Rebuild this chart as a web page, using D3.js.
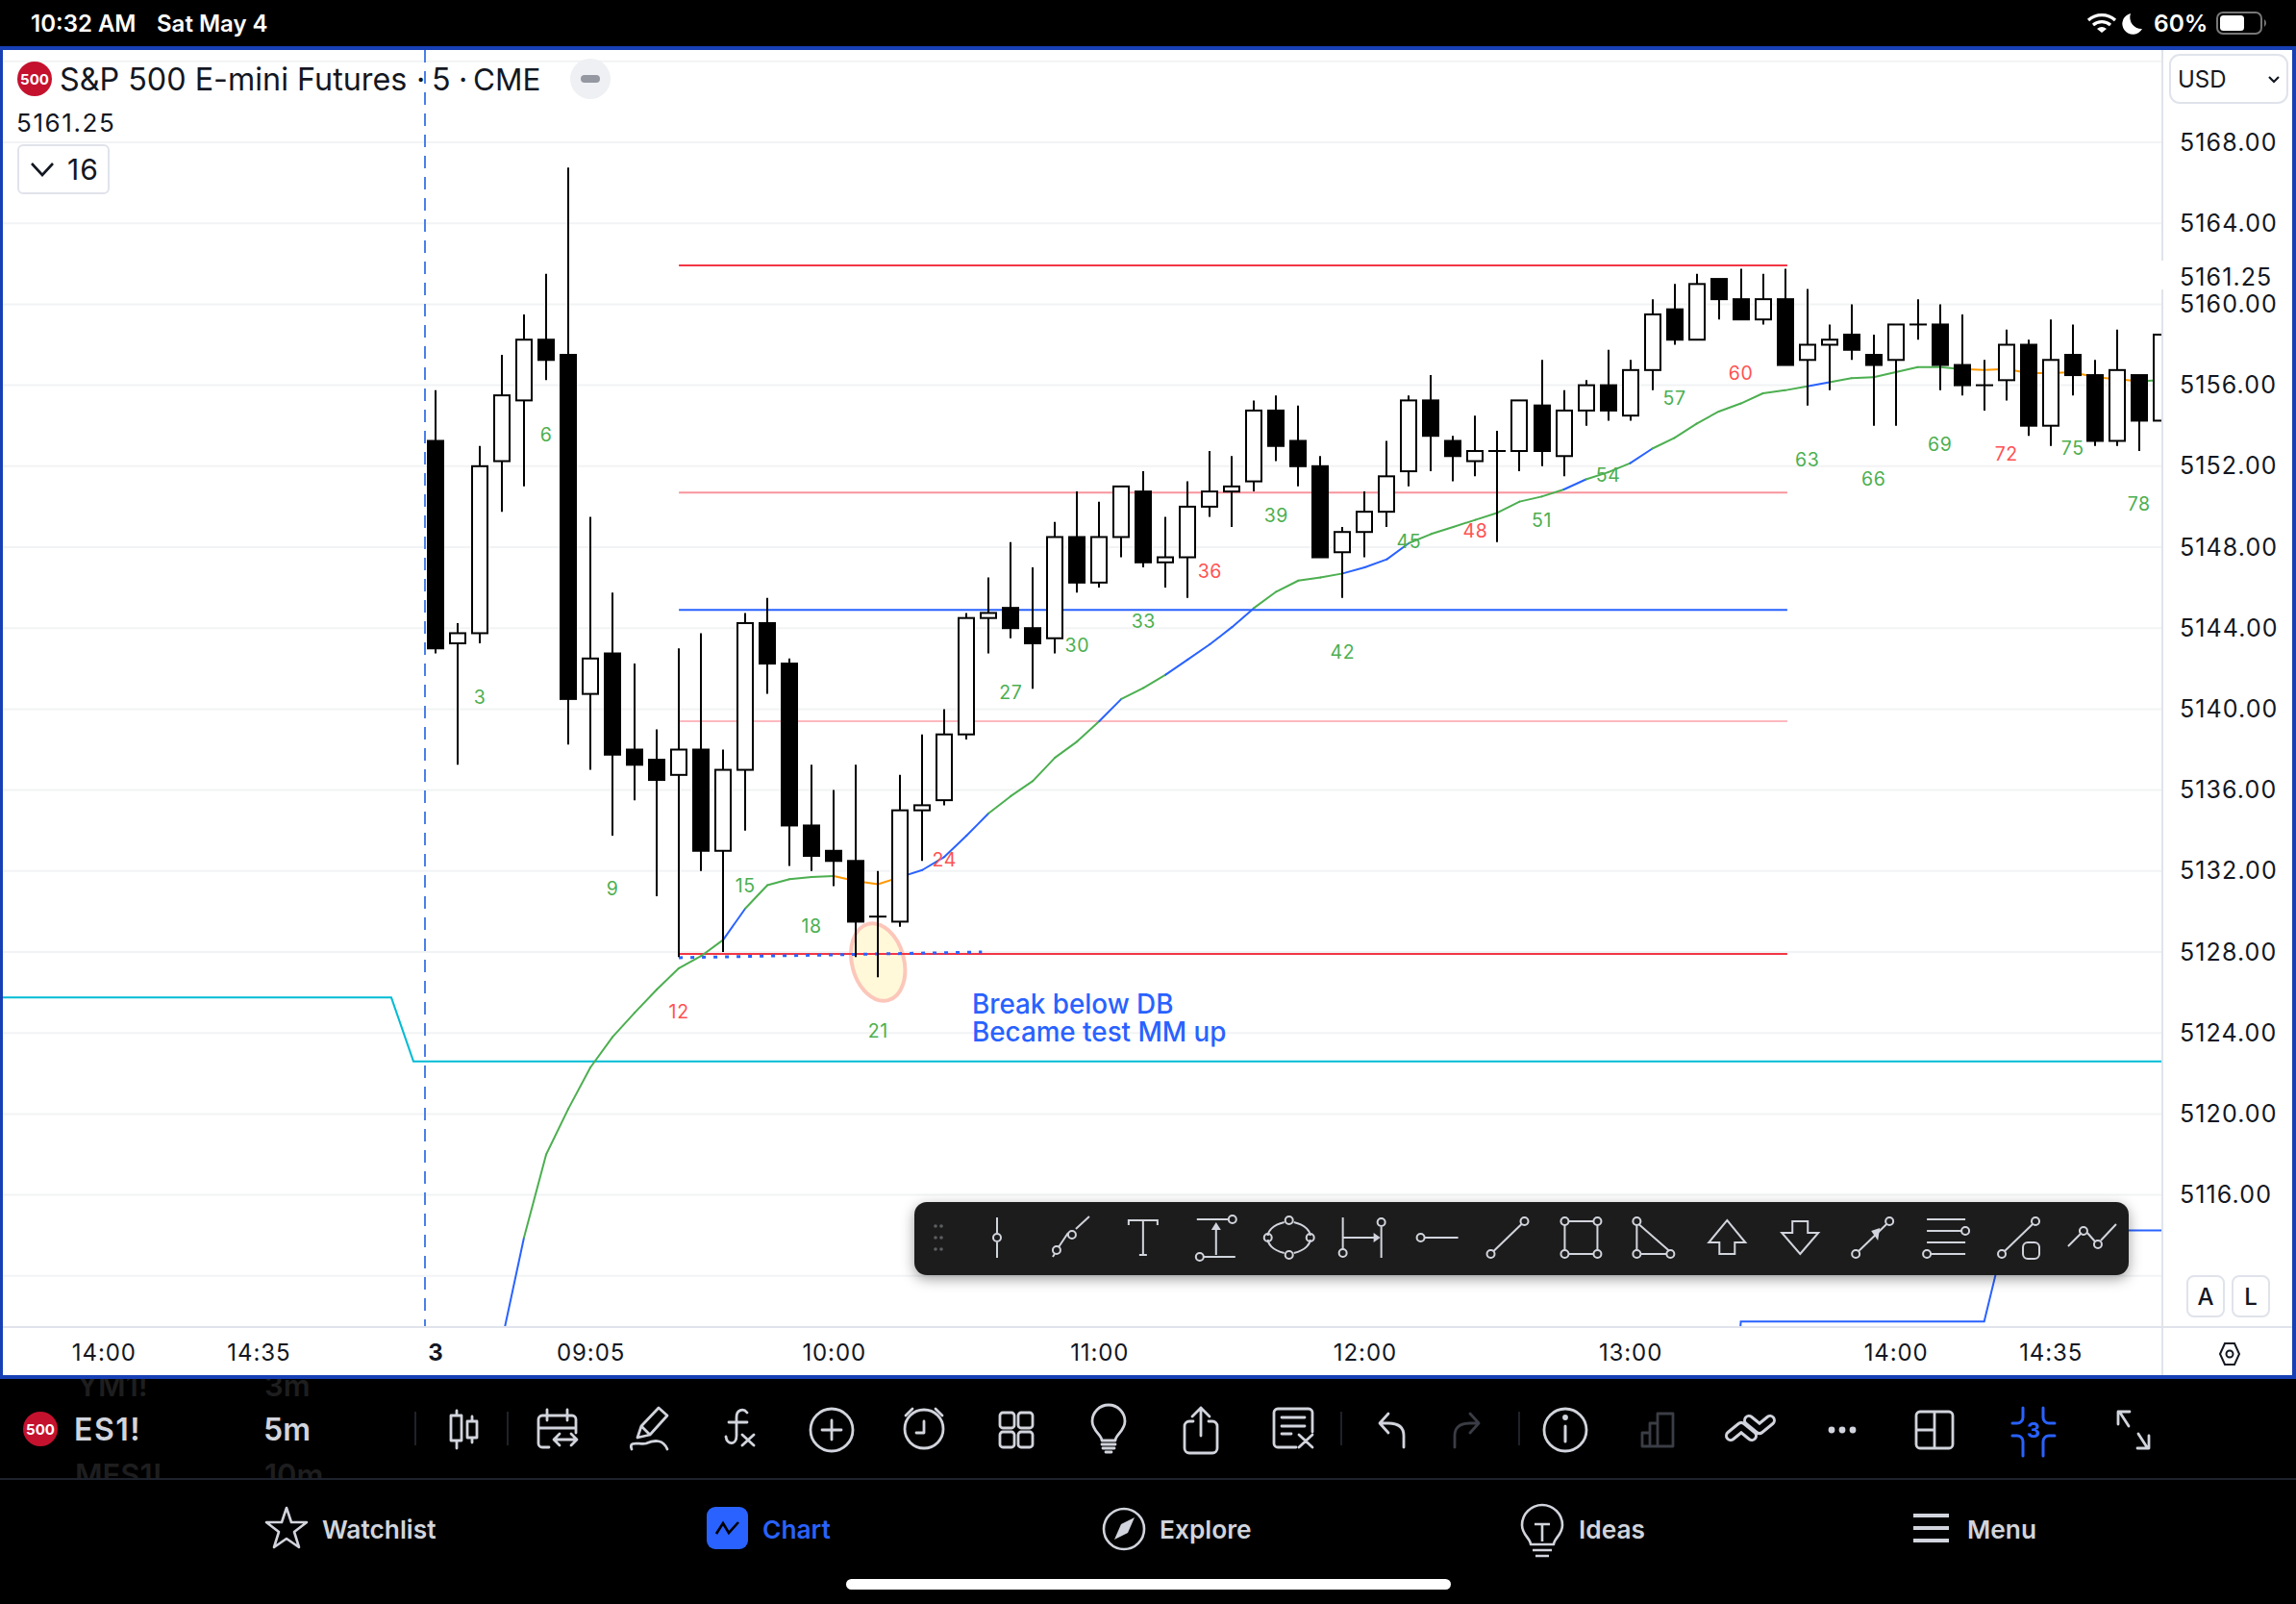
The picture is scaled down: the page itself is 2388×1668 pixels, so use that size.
<!DOCTYPE html>
<html>
<head>
<meta charset="utf-8">
<title>ES1! 5m</title>
<script src="https://cdn.jsdelivr.net/npm/d3@7/dist/d3.min.js"></script>
<style>
html,body{margin:0;padding:0;background:#000;}
svg{display:block;}
text{font-family:Inter,"Noto Sans",sans-serif;}
</style>
</head>
<body>
<svg id="app" width="2388" height="1668"></svg>
<script>
// Session candles, one entry per 5-minute bar starting with bar 1.
const opens = [5153.25,5143.25,5143.75,5152.25,5155.25,5158.25,5157.5,5140.75,5142.75,5138,
5137.5,5136.75,5138,5133,5137,5144.25,5142.25,5134.25,5133,5132.5,
5129.75,5129.5,5135,5135.5,5138.75,5144.5,5145,5144,5143.5,5148.5,
5146.25,5148.5,5150.75,5147.25,5147.5,5150,5150.75,5151.25,5154.75,5153.25,
5152,5147.75,5148.75,5149.75,5151.75,5155.25,5153.25,5152.25,5152.75,5152.75,
5155,5152.5,5154.75,5156,5154.5,5156.75,5159.75,5158.25,5161.25,5160.25,
5159.25,5160.25,5157.25,5158,5158.5,5157.5,5157.25,5159,5159,5157,
5156,5156.25,5158,5154,5157.5,5156.5,5153.25,5156.5,5154.25];
const highs = [5155.75,5144.25,5153,5157.5,5159.5,5161.5,5166.75,5149.5,5145.75,5142.25,
5139,5143,5143.75,5138,5144.75,5145.5,5142.5,5137.25,5136,5137.25,
5132,5136.75,5138.75,5140,5144.75,5146.5,5148.25,5147,5149.25,5150.75,
5150.25,5151,5151.75,5149.5,5151.25,5152.75,5152.5,5155.25,5155.5,5155,
5152.5,5149,5150.75,5153.25,5155.5,5156.5,5153.5,5154.5,5153.75,5155.25,
5157.25,5155.75,5156.25,5157.75,5157.25,5160.25,5161,5161.5,5161.25,5161.75,
5161.5,5161.75,5160.75,5159,5160,5158.5,5159,5160.25,5160,5159.5,
5157.25,5158.75,5158.25,5159.25,5159,5157.25,5158.75,5156.5,5158.5];
const lows = [5142.75,5137.25,5143.25,5149.75,5151,5156.25,5138.25,5137,5133.75,5135.5,
5130.75,5127.75,5132,5128,5134,5140.75,5132.25,5132,5131.25,5127.75,
5126.75,5129.25,5132.5,5135.25,5138.5,5142.75,5143.5,5141,5142.75,5145.75,
5146,5147.5,5147,5146,5145.5,5149.5,5149,5150.75,5152.25,5151,
5147.5,5145.5,5147.5,5149,5151,5151.75,5151.25,5151.5,5148.25,5151.75,
5152,5151.5,5154,5154.25,5154.25,5155.75,5158,5158.25,5159.25,5159.25,
5159,5157,5155,5155.75,5157.25,5154,5154,5158.25,5155.75,5155.5,
5154.75,5155.25,5153.5,5153,5155.5,5153,5153,5152.75,5154.25];
const closes = [5143,5143.75,5152,5155.5,5158.25,5157.25,5140.5,5142.5,5137.75,5137.25,
5136.5,5138,5133,5137,5144.25,5142.25,5134.25,5132.75,5132.5,5129.5,
5129.75,5135,5135.25,5138.75,5144.5,5144.75,5144,5143.25,5148.5,5146.25,
5148.5,5151,5147.25,5147.5,5150,5150.75,5151,5154.75,5153,5152,
5147.5,5148.75,5149.75,5151.5,5155.25,5153.5,5152.5,5152.75,5152.75,5155.25,
5152.75,5154.75,5156,5154.75,5156.75,5159.5,5158.25,5161,5160.25,5159.25,
5160.25,5157,5158,5158.25,5157.75,5157,5159,5159,5157,5156,
5156,5158,5154,5157.25,5156.5,5153.25,5156.75,5154.25,5158.5];

// Moving average from bar 4 onward, with the trend colour of the segment arriving at each bar.
const emaFirstBar = 4;
const emaValues = [5108.8,5113.9,5118,5120.25,5122.3,5123.8,5125,5126.15,5127.2,5127.8,
5128.6,5130.15,5131.3,5131.6,5131.7,5131.75,5131.5,5131.35,5131.7,5132.05,
5132.7,5133.75,5134.85,5135.7,5136.45,5137.6,5138.4,5139.4,5140.5,5141.05,
5141.7,5142.45,5143.2,5144.05,5145,5145.8,5146.35,5146.5,5146.7,5147,
5147.4,5148.2,5148.65,5149,5149.35,5149.7,5150.25,5150.5,5150.85,5151.35,
5151.7,5152.15,5152.87,5153.4,5154.1,5154.7,5155.1,5155.6,5155.75,5155.95,
5156.15,5156.35,5156.4,5156.65,5156.9,5156.9,5156.8,5156.75,5156.8,5156.6,
5156.6,5156.65,5156.4,5156.3,5156.2,5156.25];
const emaTrend = "bggggggggg" + "bgggg" + "ooo" + "bbbb" + "ggggg" + "b" + "gg" + "bbbb" + "gggg" + "bbb" +
  "ggggggg" + "b" + "gg" + "b" + "ggggggg" + "b" + "gggggg" + "oooooooo" + "g";
const trendColor = {g:"#4caf50", b:"#2962ff", o:"#ff9800"};

// Count labels printed under every third bar, with the price they sit at.
const countBars = [3,6,9,12,15,18,21,24,27,30,33,36,39,42,45,48,51,54,57,60,63,66,69,72,75,78];
const countPrices = [5140.6,5153.55,5131.15,5125.05,5131.3,5129.3,5124.1,5132.55,5140.85,5143.15,5144.35,5146.8,5149.55,
5142.8,5148.3,5148.8,5149.35,5151.55,5155.35,5156.6,5152.3,5151.35,5153.1,5152.6,5152.9,5150.15];
const redCounts = [12,24,36,48,60,72];

// Measured-move levels drawn across the session.
const levelPrices = [5161.92,5150.7,5144.9,5139.4,5127.9];
const levelColors = ["#f23645","#f7959d","#2962ff","#fdb9be","#f23645"];
const levelStartBar = 12, levelEndBar = 62.1;

// Prior-session reference line and the higher-timeframe step line.
const cyanBars = [-40,-1,0,90];
const cyanPrices = [5125.75,5125.75,5122.6,5122.6];
const stepBars = [59,60,71,72,90];
const stepPrices = [5095,5109.75,5109.75,5114.25,5114.25];

// Axis ticks.
const priceTicks = d3.range(5116,5169,4);
const currentPrice = 5161.25;
const timeTickBars = [-14,-7,1,8,19,31,43,55,67,74];
const timeTickLabels = ["14:00","14:35","3","09:05","10:00","11:00","12:00","13:00","14:00","14:35"];

const svg = d3.select("#app");
const W = 2388, H = 1668;
const paneL = 3, paneR = 2249, paneT = 52, paneB = 1380;

const x = d3.scaleLinear().domain([1,79]).range([453,453+78*23.01]);
const y = d3.scaleLinear().domain([5168,5116]).range([148,148+52*21.05]);
const bars = opens.map((o,i)=>({n:i+1,o,h:highs[i],l:lows[i],c:closes[i]}));

svg.append("rect").attr("width",W).attr("height",H).attr("fill","#000");
svg.append("rect").attr("x",0).attr("y",48).attr("width",W).attr("height",1386).attr("fill","#1740b5");
svg.append("rect").attr("x",paneL).attr("y",paneT).attr("width",2381).attr("height",1378).attr("fill","#fff");

const defs = svg.append("defs");
defs.append("clipPath").attr("id","pane").append("rect")
  .attr("x",paneL).attr("y",paneT).attr("width",paneR-paneL).attr("height",paneB-paneT);
defs.append("clipPath").attr("id","tray").append("rect")
  .attr("x",0).attr("y",1434).attr("width",W).attr("height",104);
const shadow = defs.append("filter").attr("id","toolShadow").attr("x","-5%").attr("y","-40%").attr("width","110%").attr("height","190%");
shadow.append("feDropShadow").attr("dx",0).attr("dy",4).attr("stdDeviation",7).attr("flood-color","#000").attr("flood-opacity",0.38);

const plot = svg.append("g").attr("clip-path","url(#pane)");

// Horizontal price grid
plot.append("g").selectAll("line").data(d3.range(5112,5173,4)).join("line")
  .attr("x1",paneL).attr("x2",paneR).attr("y1",d=>y(d)).attr("y2",d=>y(d))
  .attr("stroke","#f2f3f4").attr("stroke-width",2);

// Session-break marker
plot.append("line").attr("x1",442).attr("x2",442).attr("y1",paneT).attr("y2",paneB)
  .attr("stroke","#4a80e6").attr("stroke-width",2).attr("stroke-dasharray","13 9");

const lineXY = d3.line().x(d=>x(d[0])).y(d=>y(d[1]));

plot.append("path").attr("d",lineXY(d3.zip(cyanBars,cyanPrices))).attr("fill","none")
  .attr("stroke","#00bcd4").attr("stroke-width",2);
plot.append("path").attr("d",lineXY(d3.zip(stepBars,stepPrices))).attr("fill","none")
  .attr("stroke","#2962ff").attr("stroke-width",2);

// Pullback highlight around the breakout bar
plot.append("ellipse")
  .attr("cx",x(21)).attr("cy",y(5127.5)).attr("rx",27).attr("ry",41)
  .attr("transform",`rotate(-15 ${x(21)} ${y(5127.5)})`)
  .attr("fill","#fff9d9").attr("stroke","#fcc7ba").attr("stroke-width",4);

plot.append("g").selectAll("line").data(levelPrices).join("line")
  .attr("x1",x(levelStartBar)).attr("x2",x(levelEndBar))
  .attr("y1",d=>y(d)).attr("y2",d=>y(d))
  .attr("stroke",(d,i)=>levelColors[i]).attr("stroke-width",2);

// Double-bottom support, dotted
plot.append("line").attr("x1",x(12)).attr("x2",x(25.7)).attr("y1",y(5127.72)).attr("y2",y(5128.0))
  .attr("stroke","#2962ff").attr("stroke-width",3).attr("stroke-dasharray","4 8");

// Moving average, segment by segment so the colour follows the trend
const emaSegs = emaTrend.split("").map((t,i)=>({t,
  from:[emaFirstBar+i,emaValues[i]], to:[emaFirstBar+i+1,emaValues[i+1]]}));
plot.append("g").selectAll("path").data(emaSegs).join("path")
  .attr("d",d=>lineXY([d.from,d.to])).attr("fill","none")
  .attr("stroke",d=>trendColor[d.t]).attr("stroke-width",2).attr("stroke-linecap","round");

// Candles
const cg = plot.append("g").selectAll("g").data(bars).join("g");
cg.append("line").attr("x1",d=>Math.round(x(d.n))).attr("x2",d=>Math.round(x(d.n)))
  .attr("y1",d=>y(d.h)).attr("y2",d=>y(d.l)).attr("stroke","#000").attr("stroke-width",2);
cg.filter(d=>d.c<d.o).append("rect")
  .attr("x",d=>Math.round(x(d.n))-9).attr("width",18)
  .attr("y",d=>y(d.o)-1).attr("height",d=>y(d.c)-y(d.o)+2).attr("fill","#000");
cg.filter(d=>d.c>d.o).append("rect")
  .attr("x",d=>Math.round(x(d.n))-8).attr("width",16)
  .attr("y",d=>y(d.c)).attr("height",d=>y(d.o)-y(d.c))
  .attr("fill","#fff").attr("stroke","#000").attr("stroke-width",2);
cg.filter(d=>d.c===d.o).append("line")
  .attr("x1",d=>Math.round(x(d.n))-9).attr("x2",d=>Math.round(x(d.n))+9)
  .attr("y1",d=>y(d.c)).attr("y2",d=>y(d.c)).attr("stroke","#000").attr("stroke-width",2);

// Bar counts
plot.append("g").selectAll("text").data(countBars).join("text")
  .attr("x",d=>x(d)).attr("y",(d,i)=>y(countPrices[i]))
  .attr("text-anchor","middle").attr("dominant-baseline","central")
  .attr("font-size",19.5).attr("letter-spacing",0.6)
  .attr("fill",d=>redCounts.includes(d)?"#ff5252":"#4caf50").text(d=>d);

// Annotation
plot.append("g").selectAll("text").data(["Break below DB","Became test MM up"]).join("text")
  .attr("x",1011).attr("y",(d,i)=>1044+i*29)
  .attr("dominant-baseline","central").attr("font-size",27.8).attr("font-weight",500).attr("fill","#2962ff").text(d=>d);

// Pane edges
svg.append("line").attr("x1",paneL).attr("x2",2384).attr("y1",paneB).attr("y2",paneB).attr("stroke","#e0e3eb").attr("stroke-width",2);
svg.append("line").attr("x1",paneR).attr("x2",paneR).attr("y1",paneT).attr("y2",1430).attr("stroke","#e0e3eb").attr("stroke-width",2);

// Price axis
const yAxis = svg.append("g").attr("transform",`translate(${paneR},0)`)
  .call(d3.axisRight(y).tickValues(priceTicks.concat([currentPrice])).tickSize(0).tickFormat(d3.format(".2f")));
yAxis.select(".domain").remove();
yAxis.selectAll("text").attr("x",18).attr("font-size",25).attr("letter-spacing",1.1).attr("fill","#131722");
yAxis.selectAll(".tick").filter(d=>d===currentPrice).attr("transform",`translate(0,${y(currentPrice)-1})`);
yAxis.selectAll(".tick").filter(d=>d===currentPrice).insert("rect","text")
  .attr("x",-2).attr("y",-18).attr("width",6).attr("height",30).attr("fill","#fff");

// Time axis
const xAxis = svg.append("g").attr("transform",`translate(0,${paneB})`)
  .call(d3.axisBottom(x).tickValues(timeTickBars).tickSize(0).tickFormat((d,i)=>timeTickLabels[i]));
xAxis.select(".domain").remove();
xAxis.selectAll("text").attr("y",27).attr("dy",".35em").attr("font-size",24).attr("letter-spacing",0.9).attr("fill","#131722")
  .attr("font-weight",(d,i)=>timeTickLabels[i]==="3"?700:400);

// Symbol header
function logo(cx,cy,r,fs){
  svg.append("circle").attr("cx",cx).attr("cy",cy).attr("r",r).attr("fill","#c4122e");
  svg.append("text").attr("x",cx).attr("y",cy).attr("text-anchor","middle").attr("dominant-baseline","central")
    .attr("font-size",fs).attr("font-weight",700).attr("fill","#fff").text("500");
}
logo(36,82,18,15);
[["S&P 500 E-mini Futures",62],["\u00b7",433],["5",449],["\u00b7",477],["CME",492]].forEach(([t,tx])=>
  svg.append("text").attr("x",tx).attr("y",82).attr("dominant-baseline","central")
    .attr("font-size",t==="CME"?31.5:32.3).attr("fill","#131722").text(t));
svg.append("text").attr("x",17).attr("y",127).attr("dominant-baseline","central").attr("font-size",26).attr("letter-spacing",1.6).attr("fill","#131722").text("5161.25");
svg.append("circle").attr("cx",614).attr("cy",82).attr("r",21).attr("fill","#eef0f3");
svg.append("rect").attr("x",604).attr("y",78).attr("width",20).attr("height",8).attr("rx",4).attr("fill","#9598a1");
svg.append("rect").attr("x",19).attr("y",151).attr("width",94).attr("height",50).attr("rx",5).attr("fill","#fff").attr("stroke","#e0e3eb").attr("stroke-width",2);
svg.append("path").attr("d","M33 170l11 12 11-12").attr("fill","none").attr("stroke","#131722").attr("stroke-width",2.6);
svg.append("text").attr("x",70).attr("y",176).attr("dominant-baseline","central").attr("font-size",30).attr("letter-spacing",1).attr("fill","#131722").text("16");

// Currency button
svg.append("rect").attr("x",2257).attr("y",57).attr("width",122).attr("height",50).attr("rx",10).attr("fill","#fff").attr("stroke","#e0e3eb").attr("stroke-width",2);
svg.append("text").attr("x",2265).attr("y",82).attr("dominant-baseline","central").attr("font-size",24).attr("fill","#131722").text("USD");
svg.append("path").attr("d","M2360 80l5 5 5-5").attr("fill","none").attr("stroke","#131722").attr("stroke-width",2.2);

// Auto and log toggles
[["A",2275],["L",2322]].forEach(([t,bx])=>{
  svg.append("rect").attr("x",bx).attr("y",1327).attr("width",38).attr("height",42).attr("rx",7).attr("fill","#fff").attr("stroke","#e0e3eb").attr("stroke-width",2);
  svg.append("text").attr("x",bx+19).attr("y",1348).attr("text-anchor","middle").attr("dominant-baseline","central").attr("font-size",24).attr("font-weight",500).attr("fill","#131722").text(t);
});
// Settings hexagon
svg.append("path").attr("d","M2309 1408l5-11h10l5 11-5 11h-10z").attr("fill","none").attr("stroke","#131722").attr("stroke-width",2);
svg.append("circle").attr("cx",2319).attr("cy",1408).attr("r",3.5).attr("fill","none").attr("stroke","#131722").attr("stroke-width",2);

// Drawing toolbar
const tb = svg.append("g");
tb.append("rect").attr("x",951).attr("y",1250).attr("width",1263).attr("height",76).attr("rx",13).attr("fill","#1e1e1e").attr("filter","url(#toolShadow)");
d3.cross([973,979],[1275,1287,1299]).forEach(([gx,gy])=>tb.append("circle").attr("cx",gx).attr("cy",gy).attr("r",1.8).attr("fill","#5d5e61"));
const toolIcons = [
 {d:"M0-21V-5M0 5V21",h:[[0,0]]},
 {d:"M-12 10L-2 -5M6-9L20-22M-18 20L-16 17",h:[[-14,13],[2,-3]]},
 {d:"M-15-13V-18H15V-13M0-18V18M-4 18H4",h:[]},
 {d:"M-20-19H13M-13 20H20M0 18V-10",h:[[17,-19],[-17,20]],a:[[-5,-8],[0,-16],[5,-8]]},
 {d:"M-5-16C-18-13-22-6-22-2M22-2C22-6 18-13 5-16M-22 2C-22 6-18 13-5 16M22 2C22 6 18 13 5 16",h:[[0,-18],[22,0],[0,18],[-22,0]]},
 {d:"M-20-21V12M20-21V-20M20-11V21M-20 0H13",h:[[-20,16],[20,-16]],a:[[12,-5],[19,0],[12,5]]},
 {d:"M-11 0H24",h:[[-15,0]]},
 {d:"M-15 14L14-14",h:[[-18,17],[17,-17]]},
 {d:"M-13-17H13M-13 17H13M-17-13V13M17-13V13",h:[[-17,-17],[17,-17],[-17,17],[17,17]]},
 {d:"M-18-13V13M-14 17H13M-16-14L16 14",h:[[-18,-17],[-18,17],[17,17]]},
 {d:"M0-18L19 5H8V17H-8V5H-19Z",h:[]},
 {d:"M0 17L19-5H8V-17H-8V-5H-19Z",h:[]},
 {d:"M-15 14L14-14",h:[[-18,17],[17,-17]],a:[[-2,-7],[7,-10],[5,3]]},
 {d:"M-20-19H20M-20-7H16M-20 5H20M-16 17H20",h:[[20,-7],[-20,17]]},
 {d:"M-15 14L14-14",h:[[-18,17],[17,-17]],r:[4,5,17,17]},
 {d:"M-25 9L-11-5M-5-5L3 4M9 3L25-14",h:[[-9,-7],[6,7]]}
];
toolIcons.forEach((ic,i)=>{
  const g = tb.append("g").attr("transform",`translate(${1037+i*75.93},1287)`)
    .attr("fill","none").attr("stroke","#d1d4dc").attr("stroke-width",2);
  g.append("path").attr("d",ic.d);
  if(ic.a) g.append("path").attr("d",d3.line()(ic.a)+"Z").attr("fill","#d1d4dc").attr("stroke","none");
  if(ic.r) g.append("rect").attr("x",ic.r[0]).attr("y",ic.r[1]).attr("width",ic.r[2]).attr("height",ic.r[3]).attr("rx",5);
  ic.h.forEach(([hx,hy])=>g.append("circle").attr("cx",hx).attr("cy",hy).attr("r",4));
});

// iPad status bar
const st = svg.append("g").attr("fill","#fff").attr("font-weight",600);
st.append("text").attr("x",32).attr("y",24).attr("dominant-baseline","central").attr("font-size",24).text("10:32 AM");
st.append("text").attr("x",163).attr("y",24).attr("dominant-baseline","central").attr("font-size",24).text("Sat May 4");
st.append("text").attr("x",2240).attr("y",24).attr("dominant-baseline","central").attr("font-size",24.5).text("60%");
st.append("path").attr("d","M2172 21a21 21 0 0 1 28 0M2177 26a14 14 0 0 1 18 0").attr("fill","none").attr("stroke","#fff").attr("stroke-width",3.2);
st.append("path").attr("d","M2181 30a8 8 0 0 1 10 0l-5 4z");
st.append("path").attr("d","M2216 14a11 11 0 1 0 12 16a12 12 0 0 1-12-16z");
st.append("rect").attr("x",2306).attr("y",13).attr("width",46).attr("height",22).attr("rx",6).attr("fill","none").attr("stroke","#777").attr("stroke-width",2);
st.append("rect").attr("x",2309).attr("y",16).attr("width",25).attr("height",16).attr("rx",3.5);
st.append("path").attr("d","M2355 20a5 5 0 0 1 0 8z").attr("fill","#777");

// Symbol tray with the neighbouring rows half scrolled out of view
const tray = svg.append("g");
const ghost = tray.append("g").attr("clip-path","url(#tray)").attr("font-size",31).attr("font-weight",600).attr("fill","#1e1e1f");
[["YM1!",1440,80],["3m",1440,275],["MES1!",1533,78],["10m",1533,275]].forEach(([t,ty,tx])=>
  ghost.append("text").attr("x",tx).attr("y",ty).attr("dominant-baseline","central").text(t));
logo(42,1486,18,15);
tray.append("text").attr("x",77).attr("y",1486).attr("dominant-baseline","central").attr("font-size",32).attr("letter-spacing",1.5).attr("font-weight",600).attr("fill","#d1d4dc").text("ES1!");
tray.append("text").attr("x",274).attr("y",1486).attr("dominant-baseline","central").attr("font-size",32).attr("font-weight",600).attr("fill","#d1d4dc").text("5m");
tray.append("line").attr("x1",0).attr("x2",W).attr("y1",1538).attr("y2",1538).attr("stroke","#1e222d").attr("stroke-width",2);
[432,528,1395,1580].forEach(dx=>tray.append("line").attr("x1",dx).attr("x2",dx).attr("y1",1468).attr("y2",1503).attr("stroke","#2a2e39").attr("stroke-width",1.5));

// Toolbar glyphs under the chart, centred on each icon slot
const trayIcons = [
 [481,"M-6-20V-15M-6 11V19M-12-15H-1V11H-12ZM10-14V-9M10 8V13M5-9H15V8H5Z"],
 [579,"M-19-2H20M-19-11A4 4 0 0 1-15-15H16A4 4 0 0 1 20-11V3M-19-11V14A4 4 0 0 0-15 18H-8M-10-21V-10M11-21V-10M-2 10H20M3 4L-3 10L3 16M15 4L21 10L15 16"],
 [675,"M-8-4L10-23L19-15L1 5L-12 8ZM-8-4L1 5M-18 20C-22 10-8 16-3 14C6 10 15 10 19 20"],
 [769,"M8-18C4-23-3-21-3-13V6C-3 16-13 16-14 7M-11-8H8M3 5L15 16M15 5L3 16"],
 [865,"M0-10V10M-10 0H10"],
 [961,"M0-9V3H-8M-19-15L-12-22M19-15L12-22"],
 [1057,"M-14-18H-5A3 3 0 0 1-2-15V-5A3 3 0 0 1-5-2H-14A3 3 0 0 1-17-5V-15A3 3 0 0 1-14-18ZM5-18H14A3 3 0 0 1 17-15V-5A3 3 0 0 1 14-2H5A3 3 0 0 1 2-5V-15A3 3 0 0 1 5-18ZM-14 2H-5A3 3 0 0 1-2 5V15A3 3 0 0 1-5 18H-14A3 3 0 0 1-17 15V5A3 3 0 0 1-14 2ZM5 2H14A3 3 0 0 1 17 5V15A3 3 0 0 1 14 18H5A3 3 0 0 1 2 15V5A3 3 0 0 1 5 2Z"],
 [1153,"M-7 11C-7 5-17 1-17-9A17 17 0 0 1 17-9C17 1 7 5 7 11ZM-7 15H7M-6 19H6M-3 23H3"],
 [1249,"M0 6V-23M-9-14L0-23L9-14M-8-9H-12A5 5 0 0 0-17-4V19A5 5 0 0 0-12 24H12A5 5 0 0 0 17 19V-4A5 5 0 0 0 12-9H8"],
 [1345,"M20 2V-18A4 4 0 0 0 16-22H-16A4 4 0 0 0-20-18V14A4 4 0 0 0-16 18H3M-12-13H12M-12-4H12M-12 4H-2M6 5L20 18M20 5L6 18"],
 [2012,"M-15-19H15A4 4 0 0 1 19-15V15A4 4 0 0 1 15 19H-15A4 4 0 0 1-19 15V-15A4 4 0 0 1-15-19ZM0-19V19M0 0H-19"],
 [2219,"M-14-18L-5-4M-16-6V-19H-4M14 18L5 4M16 6V19H4"]
];
const ti = tray.append("g").attr("fill","none").attr("stroke","#d1d4dc").attr("stroke-width",2.8).attr("stroke-linecap","round").attr("stroke-linejoin","round");
trayIcons.forEach(([cx,d])=>ti.append("path").attr("transform",`translate(${cx},1487)`).attr("d",d));
ti.append("circle").attr("cx",865).attr("cy",1487).attr("r",22);
ti.append("circle").attr("cx",961).attr("cy",1486).attr("r",20);
ti.append("circle").attr("cx",1628).attr("cy",1487).attr("r",22);
ti.append("path").attr("d","M1628 1483V1499").attr("stroke-width",3);
ti.append("circle").attr("cx",1628).attr("cy",1474).attr("r",1.5).attr("fill","#d1d4dc");
ti.append("path").attr("d","M1460 1505V1493C1460 1483 1453 1480 1444 1480H1437M1444 1470L1435 1480L1444 1490");
ti.append("path").attr("d","M1513 1505V1493C1513 1483 1520 1480 1529 1480H1536M1529 1470L1538 1480L1529 1490").attr("stroke","#3a3d45");
ti.append("path").attr("d","M1708 1504V1490H1716V1504M1716 1504V1480H1724V1504M1724 1504V1470H1740V1504H1708").attr("stroke","#3a3d45");
// Capsule-shaped chevrons of the drawings-toggle icon
const chevrons = "M1800 1493L1811 1484L1822 1493M1819 1477L1830 1486L1841 1477";
tray.append("path").attr("d",chevrons).attr("fill","none").attr("stroke","#d1d4dc").attr("stroke-width",12).attr("stroke-linecap","round").attr("stroke-linejoin","round");
tray.append("path").attr("d",chevrons).attr("fill","none").attr("stroke","#000").attr("stroke-width",6).attr("stroke-linecap","round").attr("stroke-linejoin","round");
[-11,0,11].forEach(o=>tray.append("circle").attr("cx",1916+o).attr("cy",1487).attr("r",3.4).attr("fill","#d1d4dc"));
const ci = tray.append("g").attr("fill","none").attr("stroke","#2962ff").attr("stroke-width",3).attr("stroke-linecap","round");
ci.append("path").attr("d","M2104 1464V1474A6 6 0 0 1 2098 1480H2093M2125 1464V1474A6 6 0 0 0 2131 1480H2137M2104 1514V1499A6 6 0 0 0 2098 1493H2093M2125 1514V1499A6 6 0 0 1 2131 1493H2137");
tray.append("text").attr("x",2115).attr("y",1487).attr("text-anchor","middle").attr("dominant-baseline","central").attr("font-size",22).attr("font-weight",700).attr("fill","#2962ff").text("3");

// Bottom navigation
const nav = svg.append("g").attr("font-size",26.3).attr("font-weight",600);
const navLabels = [["Watchlist",335,"#d1d4dc"],["Chart",793,"#2962ff"],["Explore",1206,"#d1d4dc"],["Ideas",1642,"#d1d4dc"],["Menu",2046,"#d1d4dc"]];
nav.selectAll("text").data(navLabels).join("text")
  .attr("x",d=>d[1]).attr("y",1590).attr("dominant-baseline","central").attr("fill",d=>d[2]).text(d=>d[0]);
const ni = svg.append("g").attr("fill","none").attr("stroke","#d1d4dc").attr("stroke-width",2.6).attr("stroke-linejoin","round");
ni.append("path").attr("d","M298 1568L303 1583H319L306 1593L311 1609L298 1600L285 1609L290 1593L277 1583H293Z");
svg.append("rect").attr("x",735).attr("y",1567).attr("width",43).attr("height",44).attr("rx",9).attr("fill","#2962ff");
svg.append("path").attr("d","M745 1595L752 1584L758 1594L768 1583").attr("fill","none").attr("stroke","#000").attr("stroke-width",2.6);
ni.append("circle").attr("cx",1169).attr("cy",1590).attr("r",21);
svg.append("path").attr("d","M1159 1601L1166 1585L1180 1578L1173 1594Z").attr("fill","#d1d4dc");
ni.append("path").attr("d","M1592 1606C1592 1600 1583 1596 1583 1586A21 21 0 0 1 1625 1586C1625 1596 1616 1600 1616 1606ZM1596 1585H1612M1604 1585V1603M1594 1612H1614M1597 1618H1611");
[1576,1589,1602].forEach(ly=>svg.append("rect").attr("x",1990).attr("y",ly-2).attr("width",37).attr("height",4).attr("fill","#d1d4dc"));

// Home indicator
svg.append("rect").attr("x",880).attr("y",1642).attr("width",629).attr("height",11).attr("rx",5.5).attr("fill","#fff");
</script>
</body>
</html>
